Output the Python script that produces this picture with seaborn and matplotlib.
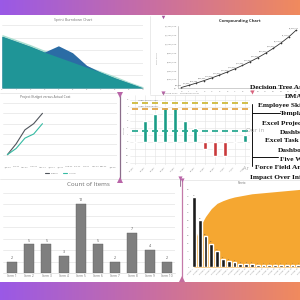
import numpy as np
import pandas as pd
import matplotlib
matplotlib.use("Agg")
import matplotlib.pyplot as plt
from matplotlib.colors import LinearSegmentedColormap
import seaborn as sns

# ---------------- data ----------------
sprint_day = [0, 1, 2, 3, 4, 5, 6, 7, 8, 9, 10]
sprint_remaining = [85, 77, 69, 60, 52, 43, 35, 27, 19, 10, 2]
sprint_actual = [82, 74, 66, 57, 67, 56, 36, 25, 16, 8, 0]
sprint_ideal = [82, 74, 66, 57, 49, 41, 33, 25, 16, 8, 0]

comp_period = list(range(16))
comp_value = [10000, 60000, 112000, 168000, 228000, 292000, 360000, 432000,
              510000, 595000, 685000, 785000, 895000, 1015000, 1150000, 1307000]

budget_months = ["Jan-24", "Feb-24", "Mar-24", "Apr-24", "May-24", "Jun-24", "Jul-24",
                 "Aug-24", "Sep-24", "Oct-24", "Nov-24", "Dec-24", "Jan-25"]
budget_plan = [1.0, 2.05, 3.4, 4.0, 5.0]
budget_actual = [1.0, 1.6, 2.6, 3.0, 4.0]

var_labels = ["01-Jan", "02-Jan", "03-Jan", "04-Jan", "05-Jan", "06-Jan",
              "07-Jan", "08-Jan", "09-Jan", "10-Jan", "11-Jan", "12-Jan"]
var_values = [0, 3, 4, 5, 5, 3, 2, -1, -2, -2, 0, 1]
var_limits = [5.6, 4.7, 1.6]
var_limit_names = ["Upper Control Limit", "Upper Warning Limit", ""]

items = ["Item 1", "Item 2", "Item 3", "Item 4", "Item 5",
         "Item 6", "Item 7", "Item 8", "Item 9", "Item 10"]
item_counts = [2, 5, 5, 3, 12, 5, 2, 7, 4, 2]

pareto_causes = ["Cause %d" % (i + 1) for i in range(20)]
pareto_counts = [45, 30, 20, 15, 10, 5, 4, 3, 2, 2, 2, 1, 1, 1, 1, 1, 1, 1, 1, 1]

tree_titles = ["Decision Tree Analysis", "DMAIC", "Employee Skills", "Template",
               "Excel Project Status", "Dashboard", "Excel Task Tracker", "Dashboard",
               "Five Whys", "Force Field Analysis", "Impact Over Influence"]

# ---------------- style ----------------
sns.set_theme(style="white")
plt.rcParams["font.family"] = ["Open Sans", "DejaVu Sans"]

W, H = 300, 300
fig = plt.figure(figsize=(3, 3), dpi=100)
fig.patch.set_facecolor("white")

grey_txt = "#7a7a7a"
grid_c = "#e4e4e4"
pink = "#b965a8"


def px_axes(x0, y0, x1, y1, z=1):
    a = fig.add_axes([x0 / W, 1 - y1 / H, (x1 - x0) / W, (y1 - y0) / H])
    a.set_zorder(z)
    a.set_facecolor("white")
    return a


def tiny(a, size=1.8):
    a.tick_params(labelsize=size, colors=grey_txt, length=0, pad=1)
    for s in a.spines.values():
        s.set_visible(False)


# background gradient strips
cmap = LinearSegmentedColormap.from_list("band", ["#9a59e6", "#c86ea3", "#f08a5e"])
bg = fig.add_axes([0, 0, 1, 1])
bg.set_zorder(-10)
grad = np.linspace(0, 1, 300)[None, :]
bg.imshow(grad, cmap=cmap, aspect="auto", extent=(0, 300, 15, 0))
bg.imshow(grad, cmap=cmap, aspect="auto", extent=(0, 300, 300, 282))
bg.set_xlim(0, 300)
bg.set_ylim(300, 0)
bg.axis("off")

# ---- sprint burndown ----
ax1 = px_axes(2, 25, 143, 88)
ax1.fill_between(sprint_day, sprint_remaining, color="#a9dfd0", lw=0, zorder=1)
ax1.fill_between(sprint_day, sprint_actual, color="#2b6ca5", lw=0, zorder=2)
ax1.fill_between(sprint_day, sprint_ideal, color="#1f9597", lw=0, zorder=3)
ax1.set_xlim(0, 10)
ax1.set_ylim(0, 100)
ax1.set_yticks(range(0, 101, 20))
ax1.set_yticklabels([])
ax1.set_xticks(sprint_day)
ax1.grid(axis="y", color=grid_c, lw=0.5)
tiny(ax1, 1.6)
ax1.spines["bottom"].set_visible(True)
ax1.spines["bottom"].set_color("#cccccc")
ax1.spines["bottom"].set_linewidth(0.4)

# ---- compounding chart ----
ax2 = px_axes(178, 26, 297, 88)
sns.lineplot(x=comp_period, y=comp_value, ax=ax2, color="#333333", lw=0.6,
             marker="o", markersize=1.2, markeredgewidth=0)
for p, v in zip(comp_period, comp_value):
    ax2.text(p - 0.3, v + 25000, "${:,.0f}".format(v), fontsize=1.4,
             color="#555555", ha="center", va="bottom")
ax2.set_xlim(-0.4, 15.1)
ax2.set_ylim(0, 1400000)
ax2.set_yticks(range(0, 1400001, 200000))
ax2.set_yticklabels(["${:,.0f}".format(t) for t in range(0, 1400001, 200000)])
ax2.set_xticks(comp_period)
tiny(ax2, 1.7)
ax2.tick_params(axis="x", length=1, width=0.3, color="#999999")
for s in ("left", "bottom"):
    ax2.spines[s].set_visible(True)
    ax2.spines[s].set_color("#aaaaaa")
    ax2.spines[s].set_linewidth(0.4)

# ---- project budget ----
ax3 = px_axes(3, 103, 117, 165)
x_b = list(range(len(budget_plan)))
sns.lineplot(x=x_b, y=budget_plan, ax=ax3, color="#50555c", lw=0.8, label="Budget")
sns.lineplot(x=x_b, y=budget_actual, ax=ax3, color="#35bba3", lw=0.8, label="Actual")
ax3.set_xlim(-0.5, 12.5)
ax3.set_ylim(0, 6)
ax3.set_xticks(range(len(budget_months)))
ax3.set_xticklabels(budget_months)
ax3.set_yticks(range(7))
ax3.set_yticklabels([])
ax3.grid(axis="y", color=grid_c, lw=0.5)
tiny(ax3, 1.6)
ax3.legend(loc="upper center", bbox_to_anchor=(0.5, -0.08), ncol=2, frameon=False,
           fontsize=1.6, handlelength=2, labelcolor=grey_txt)

# ---- variance bar chart ----
ax4 = px_axes(130, 95, 250, 165)
var_df = pd.DataFrame({"period": var_labels, "value": var_values})
var_df["sign"] = np.where(var_df["value"] < 0, "neg", "pos")
sns.barplot(data=var_df, x="period", y="value", hue="sign", dodge=False,
            palette={"pos": "#1b9d87", "neg": "#c9393b"}, width=0.45,
            saturation=1, legend=False, ax=ax4)
xs = np.arange(len(var_values))
for lim, col in zip(var_limits, ["#cdb93c", "#e3a54a", "#2aa992"]):
    ax4.hlines([lim] * len(xs), xs - 0.3, xs + 0.3, colors=col, lw=1.3, zorder=1)
for lim, name in zip(var_limits, var_limit_names):
    if name:
        ax4.text(0.3, lim + 0.3, name, fontsize=1.5, color="#666666")
ax4.set_xlim(-0.5, 11.5)
ax4.set_ylim(-3.3, 6.7)
ax4.set_yticks(range(-3, 7))
ax4.set_xlabel("")
ax4.set_ylabel("Values", fontsize=1.6, color=grey_txt, labelpad=1)
ax4.grid(color=grid_c, lw=0.4)
ax4.set_axisbelow(True)
tiny(ax4, 1.6)
plt.setp(ax4.get_xticklabels(), rotation=45, ha="right")

# ---- count of items ----
ax5 = px_axes(3.4, 192.5, 175.4, 273)
sns.barplot(x=items, y=item_counts, color="#7f7f7f", edgecolor="#5c5c5c",
            linewidth=0.3, width=0.58, saturation=1, ax=ax5)
ax5.bar_label(ax5.containers[0], fontsize=2.6, padding=1.2, color="#555555")
ax5.set_ylim(0, 14)
ax5.set_yticks(range(0, 15, 2))
ax5.set_yticklabels([])
ax5.grid(axis="y", color=grid_c, lw=0.5)
ax5.set_axisbelow(True)
tiny(ax5, 2.4)
ax5.spines["bottom"].set_visible(True)
ax5.spines["bottom"].set_color("#d0d0d0")
ax5.spines["bottom"].set_linewidth(0.4)

# ---- pareto ----
ax6 = px_axes(191, 189, 307, 267, z=3)
ax6b = ax6.twinx()
ax6b.set_zorder(2)
ax6.patch.set_visible(False)
cum_pct = np.cumsum(pareto_counts) / np.sum(pareto_counts) * 100
ax6b.fill_between(range(len(pareto_counts)), cum_pct, color="#f5a731", lw=0)
ax6b.set_ylim(0, 100)
ax6b.set_yticklabels([])
tiny(ax6b)
sns.barplot(x=pareto_causes, y=pareto_counts, color="#1c1c1c", saturation=1,
            width=0.68, ax=ax6)
ax6.bar_label(ax6.containers[0], fontsize=1.5, padding=0.8, color="#555555")
ax6.set_xlim(-0.5, len(pareto_counts) - 0.5)
ax6b.set_xlim(-0.5, len(pareto_counts) - 0.5)
ax6.set_ylim(0, 50)
ax6.set_yticks(range(0, 51, 5))
tiny(ax6, 1.5)
plt.setp(ax6.get_xticklabels(), rotation=45, ha="right")

# ---------------- overlay: titles, list and dividers ----------------
ov = fig.add_axes([0, 0, 1, 1])
ov.set_zorder(20)
ov.patch.set_visible(False)
ov.set_xlim(0, 300)
ov.set_ylim(300, 0)
ov.axis("off")

ov.text(73, 20, "Sprint Burndown Chart", fontsize=2.6, color=grey_txt, ha="center", va="center")
ov.text(240, 21, "Compounding Chart", fontsize=3.0, color="#333333", ha="center",
        va="center", weight="bold")
ov.text(157, 58, "Total Value", fontsize=1.6, color=grey_txt, rotation=90, ha="center", va="center")
ov.text(180, 93, "Compound Periods", fontsize=1.5, color=grey_txt, ha="left", va="center")
ov.text(45, 97, "Project Budget versus Actual Cost", fontsize=2.3, color="#666666",
        ha="center", va="center")
ov.text(170, 93, "Variance Chart", fontsize=1.6, color=grey_txt, ha="center", va="center")
ov.text(88, 184, "Count of Items", fontsize=4.5, color="#707070", ha="center", va="center")
ov.text(238, 183, "Pareto", fontsize=2.0, color="#666666", ha="left", va="center")

# faint text behind list
ov.text(246, 131, "Our in", fontsize=4.5, color="#b0b0b0", ha="left", va="center")
ov.text(243, 168, "Ar", fontsize=4.0, color="#b0b0b0", ha="left", va="center")

tree_x = [250, 285, 258, 280, 262, 280, 265, 278, 280, 255, 250]
tree_y = [87, 96, 105, 114, 123, 132, 141, 150, 159, 168, 177]
for t, x, y in zip(tree_titles, tree_x, tree_y):
    ov.text(x, y, t, fontsize=5.3, color="#111111", ha="left", va="center",
            family=["Liberation Serif", "DejaVu Serif"], weight="bold")
ov.plot([252, 252], [104, 166], color="#111111", lw=0.7)
ov.plot([252, 280], [112.5, 112.5], color="#111111", lw=0.7)
ov.plot([252, 278], [156.5, 156.5], color="#111111", lw=0.7)

# panel borders
for xs_, ys_ in [([0, 118], [93, 93]), ([150, 300], [94.5, 94.5]), ([150, 150], [16, 94]),
                 ([0, 180], [178.5, 178.5]), ([184, 300], [180, 180])]:
    ov.plot(xs_, ys_, color="#e2e2e2", lw=0.5)

# dividers with pointers
ov.plot([120, 120], [95, 180], color="#8a6d8a", lw=0.9)
ov.plot([120], [95], marker="v", markersize=4.5, color=pink, mew=0)
ov.plot([120], [180], marker="^", markersize=4.5, color=pink, mew=0)
ov.plot([182, 182], [179, 281], color="#c47aa9", lw=0.9)
ov.plot([182], [179.5], marker="v", markersize=3, color=pink, mew=0)
ov.plot([182], [279], marker="^", markersize=4, color="#c46d9e", mew=0)
ov.plot([163], [16.5], marker="v", markersize=2.5, color="#a3589e", mew=0)
ov.plot([163], [92.5], marker="v", markersize=3, color=pink, mew=0)
ov.plot([180, 180], [178, 186], color="#8a6d8a", lw=0.6)
ov.plot([180], [178], marker="v", markersize=3, color=pink, mew=0)
ov.plot([252], [92], marker="v", markersize=3, color="#d9637d", mew=0)

fig.savefig("out.png", dpi=100)
